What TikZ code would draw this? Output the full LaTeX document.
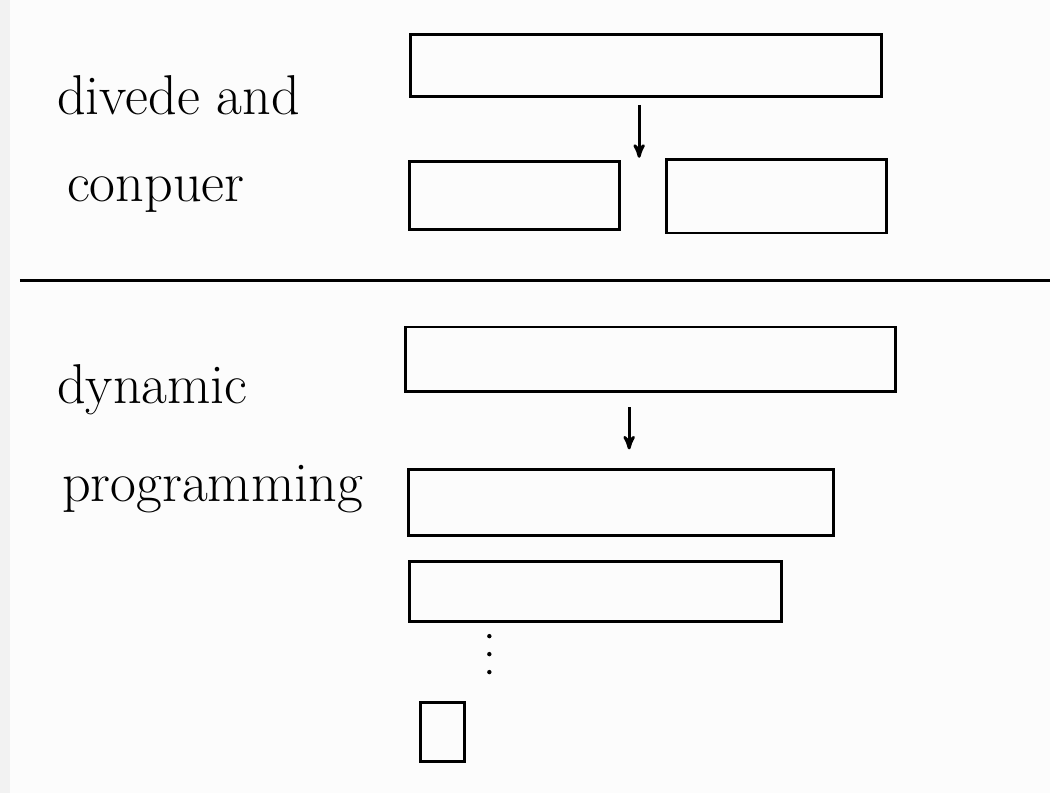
\documentclass[tikz,border=0pt]{standalone}
\usepackage{tikz}
\usetikzlibrary{arrows,calc}

\begin{document}
\begin{tikzpicture}[x=0.02cm,y=-0.02cm,line width=1.6pt,
	box/.style={draw,inner sep=0pt},
	hand/.style={anchor=west,font=\fontsize{32}{36}\selectfont}]
		\fill[black!1] (0,0) rectangle (1051,794);
		\fill[black!5] (0,0) rectangle (10,794);
		\node[hand] (dc1) at (50,95) {divede and};
		\node[hand] (dc2) at (60,195) {conpuer};
		\node[hand] (dp1) at (50,390) {dynamic};
		\node[hand] (dp2) at (55,490) {programming};
%
		\node[box,minimum width=471*0.02cm,minimum height=62*0.02cm,anchor=north west] (A) at (410,33) {};
		\node[box,minimum width=210*0.02cm,minimum height=68*0.02cm,anchor=north west] (B) at (409,160) {};
		\node[box,minimum width=220*0.02cm,minimum height=74*0.02cm,anchor=north west] (C) at (666,158) {};
		\node[box,minimum width=490*0.02cm,minimum height=65*0.02cm,anchor=north west] (D) at (405,326) {};
		\node[box,minimum width=425*0.02cm,minimum height=66*0.02cm,anchor=north west] (E) at (408,469) {};
		\node[box,minimum width=372*0.02cm,minimum height=60*0.02cm,anchor=north west] (F) at (409,561) {};
		\node[box,minimum width=44*0.02cm,minimum height=59*0.02cm,anchor=north west] (G) at (420,702) {};
%
		\draw (20,281) -- (1051,281);
		\coordinate (a1) at (640,105);
		\coordinate (a2) at (640,158);
		\coordinate (d1) at (630,408);
		\coordinate (d2) at (630,450);
		\draw[-stealth',shorten >=0pt,>=stealth'] (a1) -- (a2);
		\draw[-stealth'] (d1) -- (d2);
		\foreach \y in {637,655,673}
			\fill (490,\y) circle (2.2);
\end{tikzpicture}
\end{document}
